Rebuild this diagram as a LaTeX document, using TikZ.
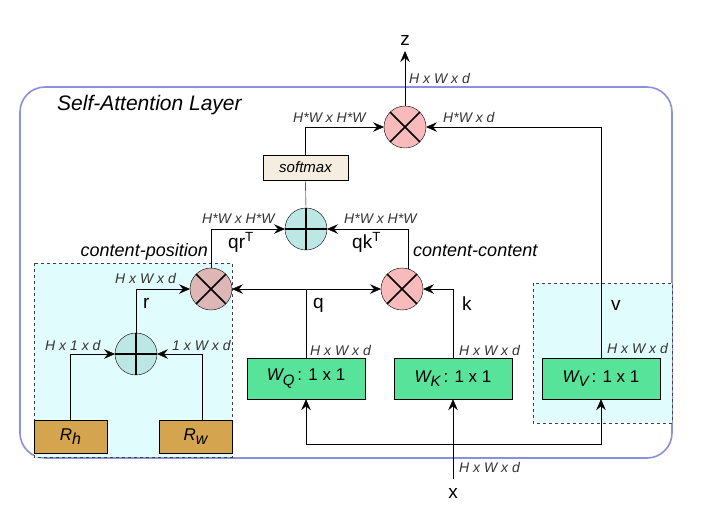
\documentclass[tikz,border=0pt]{standalone}
\usepackage{fontspec}
\setmainfont{Liberation Sans}
\usetikzlibrary{arrows.meta,calc}
\pgfdeclarelayer{back}
\pgfdeclarelayer{lines}
\pgfsetlayers{back,lines,main}
\definecolor{outerblue}{HTML}{8A90DC}
\definecolor{regionfill}{HTML}{E0FCFC}
\definecolor{pinkop}{HTML}{F8BABA}
\definecolor{dustyop}{HTML}{DDB6B6}
\definecolor{tealop}{HTML}{BCE7E5}
\definecolor{greenbox}{HTML}{58E39B}
\definecolor{goldbox}{HTML}{D4A44E}
\definecolor{beigebox}{HTML}{F4EDE0}
\begin{document}
\begin{tikzpicture}[x=1pt,y=-1pt,
  line width=1.7pt,
  arr/.style={-{Stealth[length=11pt,width=9.5pt,inset=4pt]}},
  dim/.style={font=\fontsize{14}{14}\selectfont\itshape, text=black!80, inner sep=0pt},
  var/.style={font=\fontsize{19}{19}\selectfont, inner sep=0pt},
  desc/.style={font=\fontsize{18}{18}\selectfont\itshape, inner sep=0pt},
  opcirc/.style={circle, draw, minimum size=42pt, inner sep=0pt, outer sep=0pt},
  mult/.style={opcirc, path picture={\draw[line width=1.7pt]
      (path picture bounding box.north west) -- (path picture bounding box.south east)
      (path picture bounding box.north east) -- (path picture bounding box.south west);}},
  plus/.style={opcirc, fill=tealop, path picture={\draw[line width=1.7pt]
      (path picture bounding box.north) -- (path picture bounding box.south)
      (path picture bounding box.west) -- (path picture bounding box.east);}},
  wbox/.style={draw, fill=greenbox, minimum width=118pt, minimum height=41pt, inner sep=0pt,
      font=\fontsize{17}{17}\selectfont},
  rbox/.style={draw, fill=goldbox, minimum width=73pt, minimum height=33pt, inner sep=0pt,
      font=\fontsize{17}{17}\selectfont},
  region/.style={draw=black!75, dashed, line width=1pt, fill=regionfill}
]
\useasboundingbox (0,0) rectangle (708,507);

% containers
\begin{pgfonlayer}{back}
\draw[outerblue, line width=1.6pt, rounded corners=25pt, fill=white] (20,87) rectangle (672,458);
\draw[region] (34,263) rectangle (232,457);
\draw[region] (533,283) rectangle (672,423);
\end{pgfonlayer}

\node[font=\fontsize{21}{21}\selectfont\itshape, anchor=base west, inner sep=0pt] (title) at (57,110) {Self-Attention Layer};

% operator nodes
\node[mult, fill=pinkop] (mulTop) at (405,127) {};
\node[plus] (plusTop) at (306,229) {};
\node[mult, fill=dustyop] (mulCP) at (211,289) {};
\node[mult, fill=pinkop] (mulCC) at (402,289) {};
\node[plus] (plusR) at (136,354) {};

% boxes
\node[draw, fill=beigebox, minimum width=85pt, minimum height=25pt, inner sep=0pt,
      font=\fontsize{15}{15}\selectfont\itshape] (soft) at (305.5,167.5) {softmax};
\node[wbox] (WQ) at (306,378.5) {{\itshape W\raisebox{-0.5ex}{\fontsize{15}{15}\selectfont Q}}\,: 1 x 1};
\node[wbox] (WK) at (453,378.5) {{\itshape W\raisebox{-0.5ex}{\fontsize{15}{15}\selectfont K}}\,: 1 x 1};
\node[wbox] (WV) at (601,378.5) {{\itshape W\raisebox{-0.5ex}{\fontsize{15}{15}\selectfont V}}\,: 1 x 1};
\node[rbox] (Rh) at (70.5,436.5) {{\itshape R\raisebox{-0.5ex}{\fontsize{16}{16}\selectfont h}}};
\node[rbox] (Rw) at (195.5,436.5) {{\itshape R\raisebox{-0.5ex}{\fontsize{16}{16}\selectfont w}}};

% coordinates
\coordinate (ztip) at (405,51);
\coordinate (qj) at (306,289);
\coordinate (xin) at (453,479);
\coordinate (xb) at (453,444);

% connectors
\begin{pgfonlayer}{lines}
\draw[arr] (mulTop.north) -- (ztip);
\draw[arr] (soft.north) |- (mulTop.west);
\draw[arr] (WV.north) |- (mulTop.east);
\draw (plusTop.north) -- (soft.south);
\draw[arr] (mulCP.center) |- (plusTop.west);
\draw[arr] ([xshift=6pt]mulCC.center) |- (plusTop.east);
\draw (WQ.north) -- (qj);
\draw[arr] (qj) -- (mulCP.east);
\draw[arr] (qj) -- (mulCC.west);
\draw[arr] (WK.north) |- (mulCC.east);
\draw[arr] (plusR.north) |- (mulCP.west);
\draw[arr] (Rh.north) |- (plusR.west);
\draw[arr] ([xshift=6.5pt]Rw.north) |- (plusR.east);
\draw[arr] (xin) -- (WK.south);
\draw[arr] (xb) -| (WQ.south);
\draw[arr] (xb) -| (WV.south);
\end{pgfonlayer}

% variable labels
\node[var, anchor=base] (zl) at (405,45) {z};
\node[var, anchor=base] (xl) at (453,498) {x};
\node[var, anchor=base west] (qrl) at (228,248) {qr\textsuperscript{T}};
\node[var, anchor=base west] (qkl) at (352,248) {qk\textsuperscript{T}};
\node[var, anchor=base west] (rl) at (143,308) {r};
\node[var, anchor=base west] (ql) at (313,308) {q};
\node[var, anchor=base west] (kl) at (462,310) {k};
\node[var, anchor=base west] (vl) at (611,310) {v};
\node[desc, anchor=base east] (cpl) at (208,256) {content-position};
\node[desc, anchor=base west] (ccl) at (413,256) {content-content};

% dimension labels
\node[dim, anchor=base west] (d1) at (409,83) {H x W x d};
\node[dim, anchor=base west] (d2) at (293,122) {H*W x H*W};
\node[dim, anchor=base west] (d3) at (443,122) {H*W x d};
\node[dim, anchor=base west] (d4) at (202,223) {H*W x H*W};
\node[dim, anchor=base west] (d5) at (344,223) {H*W x H*W};
\node[dim, anchor=base west] (d6) at (115,283) {H x W x d};
\node[dim, anchor=base west] (d7) at (310,355) {H x W x d};
\node[dim, anchor=base west] (d8) at (459,355) {H x W x d};
\node[dim, anchor=base west] (d9) at (607,353) {H x W x d};
\node[dim, anchor=base west] (d10) at (45,350) {H x 1 x d};
\node[dim, anchor=base west] (d11) at (172,350) {1 x W x d};
\node[dim, anchor=base west] (d12) at (459,472) {H x W x d};
\end{tikzpicture}
\end{document}
